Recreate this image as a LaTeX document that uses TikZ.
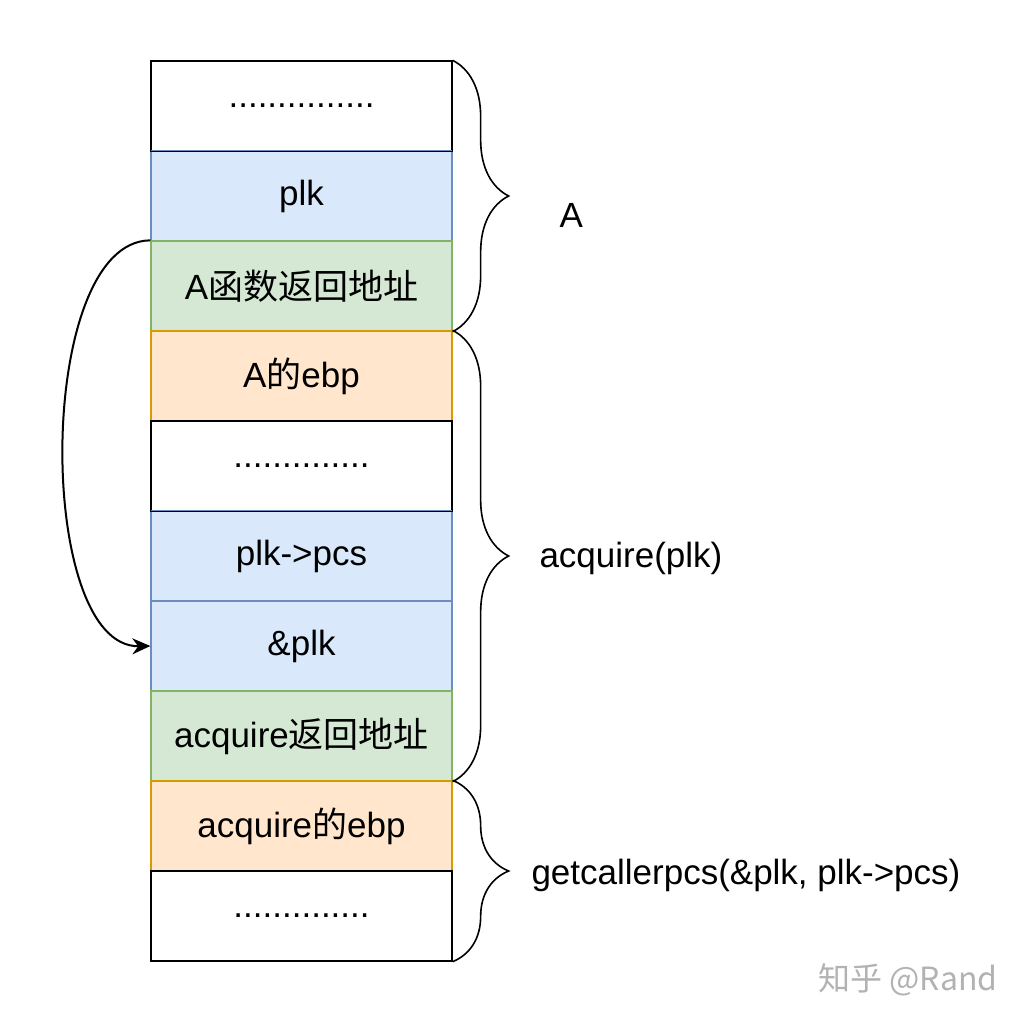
\documentclass[tikz,border=0pt]{standalone}
\usepackage{fontspec}
\setmainfont{Liberation Sans}
\newfontfamily\cjk{Noto Sans CJK SC}
\usetikzlibrary{decorations.pathreplacing,arrows.meta}
\definecolor{bfill}{HTML}{DAE8FC}\definecolor{bdraw}{HTML}{6C8EBF}
\definecolor{gfill}{HTML}{D5E8D4}\definecolor{gdraw}{HTML}{82B366}
\definecolor{ofill}{HTML}{FFE6CC}\definecolor{odraw}{HTML}{D79B00}
\begin{document}
\begin{tikzpicture}[x=1pt,y=-1pt,
  cell/.style={draw=black,fill=white,line width=1.3pt,minimum width=301pt,minimum height=90pt,inner sep=0pt,font=\fontsize{35}{38}\selectfont},
  blue/.style={cell,fill=bfill,draw=bdraw},
  green/.style={cell,fill=gfill,draw=gdraw},
  orange/.style={cell,fill=ofill,draw=odraw},
  brc/.style={decorate,decoration={brace,amplitude=56pt,aspect=#1},line width=1.6pt},
  lbl/.style={anchor=west,font=\fontsize{35}{38}\selectfont}]
\useasboundingbox (0,0) rectangle (1023,1023);

% stack cells, top to bottom
\foreach \i/\st/\txt in {1/cell/{...............},2/blue/plk,3/green/{A{\cjk 函数返回地址}},
  4/orange/{A{\cjk 的}ebp},5/cell/{..............},6/blue/{plk->pcs},7/blue/{\&plk},
  8/green/{acquire{\cjk 返回地址}},9/orange/{acquire{\cjk 的}ebp},10/cell/{..............}} {
  \node[\st] (r\i) at (301.5,{106+90*(\i-1)}) {\txt};
}
% redraw outline for white cells on top
\foreach \i in {1,5,10} \draw[line width=1.3pt] (r\i.north west) rectangle (r\i.south east);

% braces
\draw[brc=0.5] (r1.north east) -- (r3.south east);
\draw[brc=0.5] (r4.north east) -- (r8.south east);
\draw[brc=0.5] (r9.north east) -- (r10.south east);
\node[lbl] (la) at (556,215) {A};
\node[lbl] (lb) at (536,558) {acquire(plk)};
\node[lbl] (lc) at (528,875) {getcallerpcs(\&plk, plk->pcs)};

% pointer to &plk
\draw[line width=2pt,-{Stealth[length=18pt,width=16pt]}] (r3.north west)
  .. controls (35,241) and (35,648) .. (r7.west);

\node[text=gray!60,font=\cjk\fontsize{32}{34}\selectfont] (wm) at (908,980) {知乎 @Rand};
\end{tikzpicture}
\end{document}
